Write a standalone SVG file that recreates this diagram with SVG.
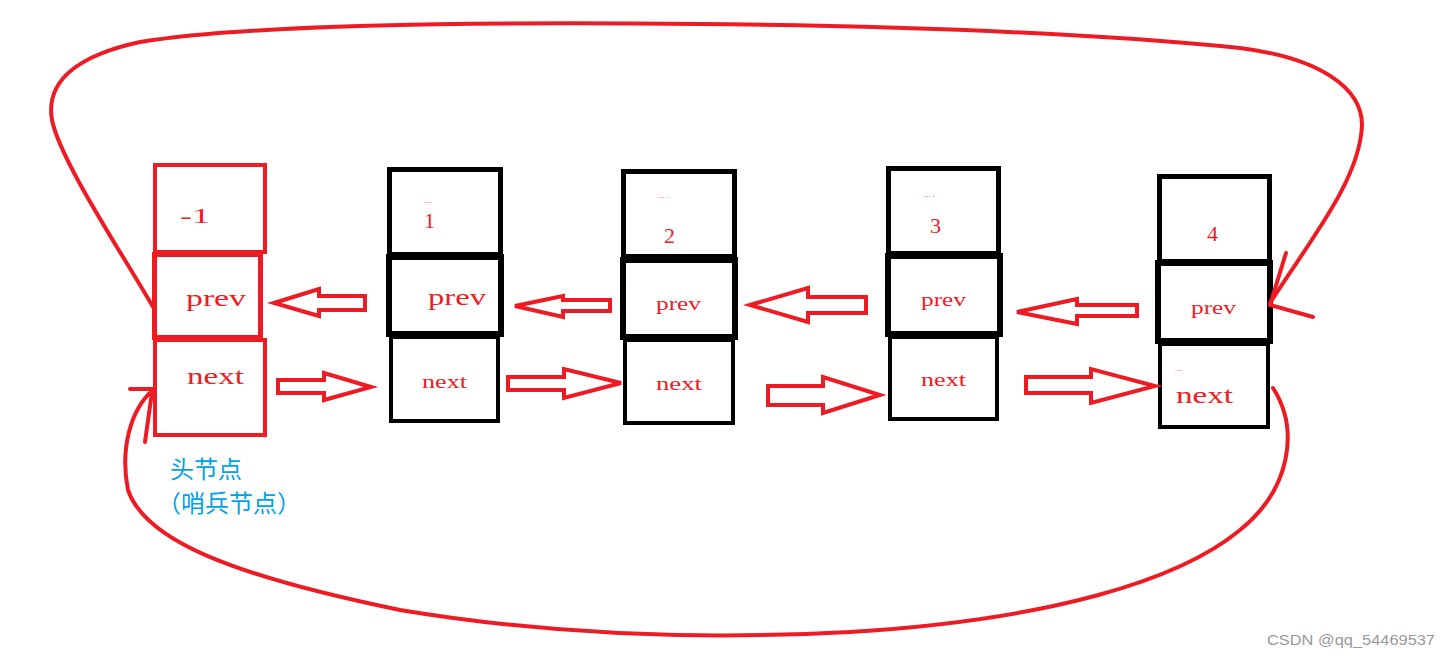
<svg xmlns="http://www.w3.org/2000/svg" width="1451" height="659" viewBox="0 0 1451 659">
<style>
.bg{fill:#ffffff}
.hb{fill:none;stroke:#ed1c24}
.nb{fill:none;stroke:#000000}
.t{font-family:"Liberation Serif","DejaVu Serif",serif;fill:#ed1c24}
.dots{font-family:"Liberation Sans",sans-serif;fill:#ed1c24;font-size:7px}
.blk{fill:none;stroke:#ed1c24;stroke-width:4;stroke-linejoin:miter}
.loop{fill:none;stroke:#ed1c24;stroke-width:4;stroke-linecap:round;stroke-linejoin:round}
.cn{font-family:"Noto Sans CJK SC",sans-serif;fill:#00a2e8;font-size:24px}
.wm{font-family:"Liberation Sans",Arial,sans-serif;fill:#9a9a9a;font-size:15.5px}
</style>
<rect class="bg" x="0" y="0" width="1451" height="659"/>

<g id="head">
<rect class="hb" x="155" y="165" width="110" height="87" stroke-width="4"/>
<rect class="hb" x="154.5" y="254.5" width="106" height="83" stroke-width="5"/>
<rect class="hb" x="155" y="340" width="110" height="95" stroke-width="4"/>
<text class="t" x="180" y="223" font-size="21" textLength="30" lengthAdjust="spacingAndGlyphs">-1</text>
<text class="t" x="186" y="306" font-size="24" textLength="60" lengthAdjust="spacingAndGlyphs">prev</text>
<text class="t" x="187" y="384" font-size="24" textLength="57" lengthAdjust="spacingAndGlyphs">next</text>
</g>

<g id="node1">
<rect class="nb" x="389.5" y="169.5" width="111" height="85" stroke-width="5"/>
<rect class="nb" x="389" y="257" width="112" height="77" stroke-width="6"/>
<rect class="nb" x="391" y="337" width="107" height="84" stroke-width="4"/>
<text class="dots" x="424" y="203">....</text>
<text class="t" x="424" y="228" font-size="22">1</text>
<text class="t" x="428" y="305" font-size="24" textLength="58" lengthAdjust="spacingAndGlyphs">prev</text>
<text class="t" x="422" y="388" font-size="18" textLength="45" lengthAdjust="spacingAndGlyphs">next</text>
</g>

<g id="node2">
<rect class="nb" x="623.5" y="171.5" width="111" height="85" stroke-width="5"/>
<rect class="nb" x="623" y="260" width="112" height="77" stroke-width="6"/>
<rect class="nb" x="625" y="340" width="108" height="83" stroke-width="4"/>
<text class="dots" x="657" y="198">.... .</text>
<text class="t" x="664" y="243" font-size="22">2</text>
<text class="t" x="656" y="310" font-size="18" textLength="45" lengthAdjust="spacingAndGlyphs">prev</text>
<text class="t" x="656" y="390" font-size="18" textLength="46" lengthAdjust="spacingAndGlyphs">next</text>
</g>

<g id="node3">
<rect class="nb" x="888.5" y="168.5" width="110" height="85" stroke-width="5"/>
<rect class="nb" x="888" y="256" width="112" height="78" stroke-width="6"/>
<rect class="nb" x="890" y="337" width="107" height="82" stroke-width="4"/>
<text class="dots" x="923" y="197">.... .</text>
<text class="t" x="930" y="233" font-size="22">3</text>
<text class="t" x="921" y="306" font-size="18" textLength="45" lengthAdjust="spacingAndGlyphs">prev</text>
<text class="t" x="921" y="386" font-size="18" textLength="45" lengthAdjust="spacingAndGlyphs">next</text>
</g>

<g id="node4">
<rect class="nb" x="1159.5" y="176.5" width="110" height="85" stroke-width="5"/>
<rect class="nb" x="1158" y="263" width="112" height="78" stroke-width="6"/>
<rect class="nb" x="1160" y="344" width="108" height="83" stroke-width="4"/>
<text class="t" x="1207" y="241" font-size="22">4</text>
<text class="t" x="1191" y="314" font-size="18" textLength="45" lengthAdjust="spacingAndGlyphs">prev</text>
<text class="dots" x="1175" y="371" font-size="5">....</text>
<text class="t" x="1176" y="403" font-size="24" textLength="57" lengthAdjust="spacingAndGlyphs">next</text>
</g>

<g id="label">
<text class="cn" x="170" y="478">头节点</text>
<text class="cn" x="157" y="512">（哨兵节点）</text>
</g>

<g id="connectors">
<polygon class="blk" points="274,303 319,289 319,296 365,296 365,310 319,310 319,316"/>
<polygon class="blk" points="278,380 324,380 324,373 371,387 324,400 324,393 278,393"/>
<polygon class="blk" points="515,306 563,296 563,300 610,300 610,311 563,311 563,317"/>
<polygon class="blk" points="508,377 564,377 564,369 621,383 564,398 564,390 508,390"/>
<polygon class="blk" points="750,305 808,288 808,297 866,297 866,313 808,313 808,322"/>
<polygon class="blk" points="768,386 823,386 823,377 880,395 823,413 823,405 768,405"/>
<polygon class="blk" points="1017,312 1077,299 1077,305 1137,305 1137,316 1077,316 1077,324"/>
<polygon class="blk" points="1026,377 1091,377 1091,369 1155,386 1091,403 1091,393 1026,393"/>

<path class="loop" d="M153,307 C120,250 60,160 52,120 C45,80 80,55 140,42 C250,24 500,22 700,24 C900,26 1100,34 1240,48 C1320,58 1362,88 1362,125 C1360,180 1310,240 1270,303"/>
<line class="loop" x1="1270" y1="305" x2="1286" y2="253"/>
<line class="loop" x1="1270" y1="305" x2="1313" y2="317"/>

<path class="loop" d="M1273,388 C1300,430 1290,490 1240,530 C1180,580 1050,620 850,632 C700,640 550,635 400,610 C230,575 145,540 128,490 C120,450 130,410 153,390"/>
<line class="loop" x1="130" y1="389" x2="155" y2="389"/>
<line class="loop" x1="152" y1="392" x2="145" y2="442"/>
</g>

<text class="wm" x="1267" y="645" textLength="168" lengthAdjust="spacingAndGlyphs">CSDN @qq_54469537</text>
</svg>
